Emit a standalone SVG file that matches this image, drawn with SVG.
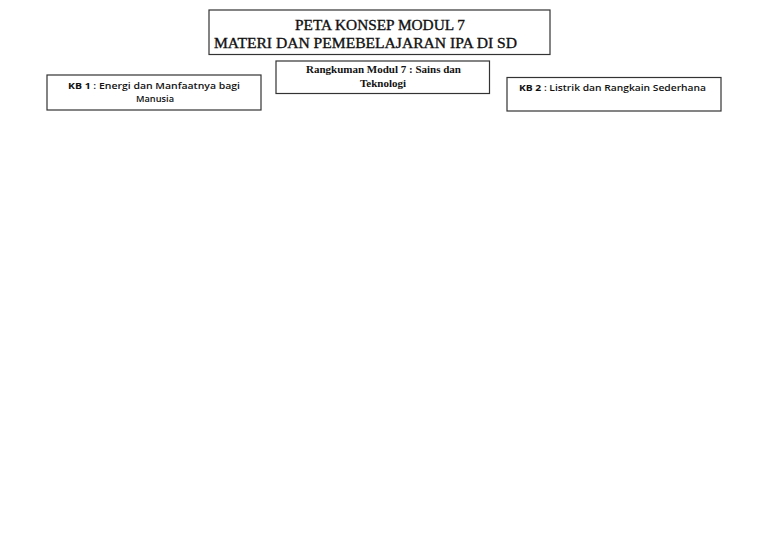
<svg xmlns="http://www.w3.org/2000/svg" width="768" height="543" viewBox="0 0 768 543">
<style>
.box{fill:#fff;stroke:#333;stroke-width:1.2}
.ser{font-family:"Liberation Serif","Times New Roman",serif;fill:#111}
.ttl{stroke:#111;stroke-width:0.35}
.sans{font-family:"Open Sans","Liberation Sans",Arial,sans-serif;font-size:9.5px;fill:#111;font-weight:600}
.b{font-weight:bold}
</style>
<rect width="768" height="543" fill="#fff"/>
<g id="title">
<rect class="box" x="209" y="10" width="341" height="44.5"/>
<text class="ser ttl" x="380" y="30" font-size="15" text-anchor="middle" textLength="170" lengthAdjust="spacingAndGlyphs">PETA KONSEP MODUL 7</text>
<text class="ser ttl" x="214" y="48" font-size="15" textLength="303" lengthAdjust="spacingAndGlyphs">MATERI DAN PEMEBELAJARAN IPA DI SD</text>
</g>
<g id="kb1">
<rect class="box" x="47" y="75" width="214" height="35"/>
<text class="sans" x="68" y="89" textLength="172" lengthAdjust="spacingAndGlyphs"><tspan class="b">KB 1</tspan> : Energi dan Manfaatnya bagi</text>
<text class="sans" x="155" y="102" text-anchor="middle" textLength="38" lengthAdjust="spacingAndGlyphs">Manusia</text>
</g>
<g id="rangkuman">
<rect class="box" x="276" y="61" width="213.5" height="32.5"/>
<text class="ser b" x="306" y="73" font-size="10" textLength="155" lengthAdjust="spacingAndGlyphs">Rangkuman Modul 7 : Sains dan</text>
<text class="ser b" x="383" y="87" font-size="10" text-anchor="middle" textLength="46" lengthAdjust="spacingAndGlyphs">Teknologi</text>
</g>
<g id="kb2">
<rect class="box" x="507" y="77.5" width="214" height="33.5"/>
<text class="sans" x="519" y="91" textLength="187" lengthAdjust="spacingAndGlyphs"><tspan class="b">KB 2</tspan> : Listrik dan Rangkain Sederhana</text>
</g>
<g id="connectors"></g>
</svg>
